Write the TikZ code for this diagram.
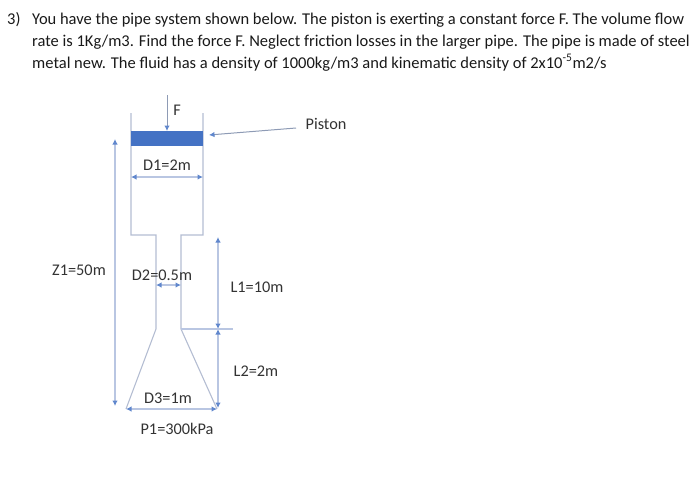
\documentclass[tikz,border=0pt]{standalone}
\usepackage{fontspec}
\setmainfont{Carlito}
\usepackage{tikz}
\usetikzlibrary{arrows.meta}
\definecolor{pistonblue}{HTML}{4472C4}
\definecolor{pipegrey}{HTML}{B4BDD2}
\definecolor{dimblue}{HTML}{B9C6E2}
\definecolor{leadgrey}{HTML}{8E9BB5}
\tikzset{
    pipe/.style={draw=pipegrey,line width=1.1pt},
    dim/.style={draw=dimblue,line width=1.3pt,{Latex[length=5.5pt,width=5.5pt,color=pistonblue!85]}-{Latex[length=5.5pt,width=5.5pt,color=pistonblue!85]}},
    lead/.style={draw=leadgrey,line width=1pt,-{Latex[length=5.5pt,width=5.5pt,color=pistonblue!85]}},
    lbl/.style={text=black!80,font=\fontsize{16.3}{18}\selectfont,inner sep=0pt},
    stmt/.style={text=black!90,font=\fontsize{16.5}{19}\selectfont,inner sep=0pt,anchor=base west}
}
\begin{document}
\begin{tikzpicture}[x=1pt,y=-1pt]
                    \useasboundingbox (0,0) rectangle (700,477);
                    % pipe outline
                    \coordinate (tl) at (131,113);
                    \coordinate (tr) at (203,113);
                    \coordinate (sl) at (131,235);
                    \coordinate (sr) at (203,235);
                    \coordinate (nl) at (156,235);
                    \coordinate (nr) at (181,235);
                    \coordinate (ml) at (156,329);
                    \coordinate (mr) at (181,329);
                    \coordinate (bl) at (126,409);
                    \coordinate (br) at (217,409);
                    \draw[pipe] (tl)--(sl)--(nl)--(ml)--(bl);
                    \draw[pipe] (tr)--(sr)--(nr)--(mr)--(br);
                    % piston
                    \fill[pistonblue] (131,131) rectangle (203,146);
                    \coordinate (ftop) at (167,95);
                    \coordinate (fbot) at (167,131);
                    \draw[lead] (ftop)--(fbot);
                    \coordinate (pa) at (296,128);
                    \coordinate (pb) at (209,135);
                    \draw[lead] (pa)--(pb);
                    % dimensions
                    \coordinate (z1a) at (115,139);
                    \coordinate (z1b) at (115,406);
                    \draw[dim] (z1a)--(z1b);
                    \coordinate (d1a) at (131,177);
                    \coordinate (d1b) at (203,177);
                    \draw[dim] (d1a)--(d1b);
                    \coordinate (d2a) at (156,285);
                    \coordinate (d2b) at (181,285);
                    \draw[dim] (d2a)--(d2b);
                    \draw[dim] (bl)--(br);
                    \coordinate (l1a) at (218,237);
                    \coordinate (l1b) at (218,329);
                    \coordinate (l2b) at (218,408);
                    \draw[dim] (l1a)--(l1b);
                    \draw[dim] (l1b)--(l2b);
                    \coordinate (tick) at (233,329);
                    \draw[dimblue,line width=1.3pt] (mr)--(tick);
                    % labels
                    \node[lbl] (f) at (177,110) {F};
                    \node[lbl] (piston) at (326,124) {Piston};
                    \node[lbl] (d1) at (167,165) {D1=2m};
                    \node[lbl] (z1) at (79,270) {Z1=50m};
                    \node[lbl] (d2) at (162,275) {D2=0.5m};
                    \node[lbl] (l1) at (257,287) {L1=10m};
                    \node[lbl] (l2) at (256,371) {L2=2m};
                    \node[lbl] (d3) at (168,398) {D3=1m};
                    \node[lbl] (p1) at (177,429) {P1=300kPa};
                    % statement
                    \node[stmt] (num) at (7,24.5) {3)};
                    \node[stmt] (line1) at (32,24.5) {You have the pipe system shown below. The piston is exerting a constant force F. The volume flow};
                    \node[stmt] (line2) at (32,46.5) {rate is 1Kg/m3. Find the force F. Neglect friction losses in the larger pipe. The pipe is made of steel};
                    \node[stmt] (line3) at (32,68) {metal new. The fluid has a density of 1000kg/m3 and kinematic density of 2x10\textsuperscript{-5}m2/s};
\end{tikzpicture}
\end{document}
